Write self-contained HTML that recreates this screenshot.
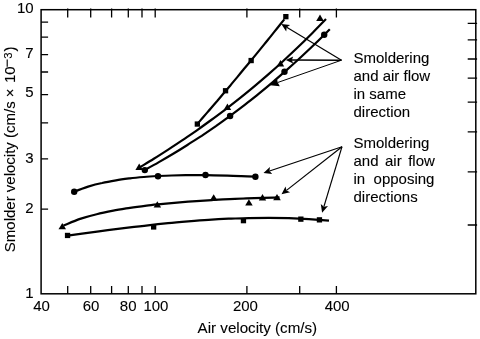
<!DOCTYPE html>
<html><head><meta charset="utf-8">
<style>
html,body{margin:0;padding:0;background:#fff;}
svg{display:block;}
text{font-family:"Liberation Sans",Arial,sans-serif;fill:#000;stroke:#000;stroke-width:0.1px;}
</style></head>
<body>
<svg width="480" height="339" viewBox="0 0 480 339">
<rect width="480" height="339" fill="#fff"/>
<g stroke="#000" fill="none">
<rect x="41.1" y="9.7" width="434.7" height="284.1" stroke-width="1.5"/>
<path stroke-width="1.3" d="M67.7 293.8V286.1M67.7 8.5V17.4M90.7 293.8V286.1M90.7 8.5V17.4M111.6 293.8V286.1M111.6 8.5V17.4M128.3 293.8V286.1M128.3 8.5V17.4M142.0 293.8V286.1M142.0 8.5V17.4M155.2 293.8V286.1M155.2 8.5V17.4M246.9 293.8V286.1M246.9 8.5V17.4M299.7 293.8V286.1M299.7 8.5V17.4M336.4 293.8V286.1M336.4 8.5V17.4M41.1 22.2H48.1M41.1 37.2H48.1M41.1 54.7H48.1M41.1 72.0H48.1M41.1 94.6H48.1M41.1 122.8H48.1M41.1 158.8H48.1M41.1 209.2H48.1M477.1 23.3H467.7M477.1 39.8H467.7M477.1 59.0H467.7M477.1 78.2H467.7M477.1 102.2H467.7M477.1 131.8H467.7M477.1 171.8H467.7M477.1 225.0H467.7"/>
</g>
<g font-size="15.0">
<text x="33.6" y="13.3" text-anchor="end">10</text>
<text x="33.6" y="57.8" text-anchor="end">7</text>
<text x="33.6" y="97.0" text-anchor="end">5</text>
<text x="33.6" y="162.5" text-anchor="end">3</text>
<text x="33.6" y="213.0" text-anchor="end">2</text>
<text x="33.6" y="297.6" text-anchor="end">1</text>
<text x="41.5" y="311.3" text-anchor="middle">40</text>
<text x="91" y="311.3" text-anchor="middle">60</text>
<text x="128.2" y="311.3" text-anchor="middle">80</text>
<text x="155.9" y="311.3" text-anchor="middle">100</text>
<text x="245.4" y="311.3" text-anchor="middle">200</text>
<text x="337.2" y="311.3" text-anchor="middle">400</text>
<text x="197.6" y="332.5" textLength="119.5" lengthAdjust="spacingAndGlyphs">Air velocity (cm/s)</text>
<text transform="translate(15.4,252.2) rotate(-90)">Smolder velocity (cm/s × <tspan dx="1.2">10</tspan><tspan dy="-3.2" dx="-1.1" font-size="15">−</tspan><tspan font-size="11.3" dy="-0.4">3</tspan><tspan dy="3.6" dx="0.9">)</tspan></text>
</g>
<g font-size="15.0">
<text x="353.5" y="63.3">Smoldering</text>
<text x="353.5" y="80.8">and air flow</text>
<text x="353.5" y="98.5">in same</text>
<text x="353.5" y="116.7">direction</text>
<text x="353.5" y="148.3">Smoldering</text>
<text x="353.5" y="165.8" word-spacing="2.3">and air flow</text>
<text x="353.5" y="183.8" word-spacing="4.2">in opposing</text>
<text x="353.5" y="201.7">directions</text>
</g>
<g stroke="#000" stroke-width="2.2" fill="none">
<path d="M197.3 124.0C198.4 122.7 201.8 118.9 204.0 116.3C206.2 113.7 208.5 111.1 210.7 108.5C212.9 105.9 215.1 103.3 217.4 100.7C219.6 98.1 221.8 95.5 224.1 92.8C226.3 90.2 228.5 87.5 230.8 84.9C233.0 82.2 235.2 79.6 237.5 76.9C239.7 74.2 241.9 71.5 244.1 68.8C246.4 66.1 248.6 63.4 250.8 60.7C253.1 58.0 255.3 55.3 257.5 52.6C259.8 49.8 262.0 47.1 264.2 44.4C266.5 41.6 268.7 38.8 270.9 36.1C273.1 33.3 275.4 30.5 277.6 27.7C279.8 25.0 283.2 20.8 284.3 19.4"/>
<path d="M139.5 167.6C141.9 166.1 149.1 161.8 153.8 158.8C158.6 155.8 163.4 152.7 168.2 149.6C173.0 146.5 177.8 143.4 182.5 140.2C187.3 136.9 192.1 133.7 196.9 130.3C201.7 126.9 206.4 123.5 211.2 120.0C216.0 116.5 220.8 112.9 225.6 109.3C230.4 105.6 235.1 101.9 239.9 98.1C244.7 94.2 249.5 90.3 254.3 86.3C259.1 82.3 263.8 78.3 268.6 74.1C273.4 69.9 278.2 65.6 283.0 61.2C287.7 56.8 292.5 52.4 297.3 47.8C302.1 43.2 306.9 38.5 311.7 33.7C316.4 28.9 323.6 21.4 326.0 19.0"/>
<path d="M144.7 170.0C147.1 168.7 154.2 164.9 158.9 162.1C163.7 159.4 168.4 156.7 173.2 153.8C177.9 151.0 182.7 148.0 187.4 145.0C192.2 142.0 196.9 138.9 201.7 135.8C206.4 132.6 211.1 129.4 215.9 126.1C220.6 122.7 225.4 119.3 230.1 115.8C234.9 112.3 239.6 108.8 244.4 105.1C249.1 101.4 253.9 97.7 258.6 93.8C263.4 90.0 268.1 86.1 272.8 82.1C277.6 78.0 282.3 73.9 287.1 69.7C291.8 65.5 296.6 61.2 301.3 56.8C306.1 52.4 310.8 47.9 315.6 43.3C320.3 38.7 327.4 31.6 329.8 29.2"/>
<path d="M74.2 191.7C76.5 190.8 83.5 188.1 88.1 186.6C92.8 185.2 97.4 184.0 102.1 183.0C106.7 181.9 111.3 181.1 116.0 180.3C120.6 179.5 125.3 178.9 129.9 178.3C134.6 177.8 139.2 177.4 143.9 177.0C148.5 176.6 153.1 176.3 157.8 176.0C162.4 175.8 167.1 175.6 171.7 175.5C176.4 175.3 181.0 175.2 185.6 175.2C190.3 175.1 194.9 175.1 199.6 175.1C204.2 175.2 208.9 175.2 213.5 175.3C218.2 175.4 222.8 175.5 227.4 175.6C232.1 175.7 236.7 175.9 241.4 176.1C246.0 176.2 253.0 176.5 255.3 176.6"/>
<path d="M63.5 225.6C66.3 224.5 74.6 220.8 80.1 218.9C85.7 217.0 91.2 215.5 96.7 214.2C102.3 212.8 107.8 211.7 113.3 210.6C118.9 209.5 124.4 208.7 130.0 207.8C135.5 207.0 141.0 206.3 146.6 205.6C152.1 204.9 157.7 204.4 163.2 203.8C168.7 203.3 174.3 202.8 179.8 202.3C185.3 201.9 190.9 201.5 196.4 201.1C202.0 200.7 207.5 200.4 213.0 200.0C218.6 199.7 224.1 199.4 229.7 199.2C235.2 198.9 240.7 198.6 246.3 198.4C251.8 198.2 257.3 198.0 262.9 197.8C268.4 197.6 276.7 197.3 279.5 197.3"/>
<path d="M67.6 235.6C71.0 235.1 81.0 233.7 87.7 232.8C94.4 231.9 101.1 231.0 107.8 230.1C114.5 229.3 121.2 228.4 127.9 227.6C134.6 226.8 141.3 226.0 148.0 225.3C154.7 224.5 161.4 223.8 168.1 223.2C174.8 222.5 181.5 221.9 188.2 221.3C194.9 220.8 201.7 220.3 208.4 219.9C215.1 219.4 221.8 219.0 228.5 218.7C235.2 218.5 241.9 218.2 248.6 218.1C255.3 217.9 262.0 217.9 268.7 217.9C275.4 217.9 282.1 218.0 288.8 218.2C295.5 218.4 302.2 218.7 308.9 219.1C315.6 219.5 325.6 220.3 329.0 220.6"/>
</g>
<g fill="#000">
<rect x="283.2" y="14.0" width="5.3" height="5.3"/>
<rect x="248.5" y="57.9" width="5.3" height="5.3"/>
<rect x="222.9" y="88.1" width="5.3" height="5.3"/>
<rect x="194.7" y="121.4" width="5.3" height="5.3"/>
<rect x="64.9" y="232.8" width="5.3" height="5.3"/>
<rect x="151.0" y="224.3" width="5.3" height="5.3"/>
<rect x="240.8" y="218.0" width="5.3" height="5.3"/>
<rect x="298.2" y="216.5" width="5.3" height="5.3"/>
<rect x="316.8" y="217.2" width="5.3" height="5.3"/>
<circle cx="324.2" cy="34.8" r="3.2"/>
<circle cx="284.5" cy="71.7" r="3.2"/>
<circle cx="230.1" cy="116" r="3.2"/>
<circle cx="144.8" cy="170.1" r="3.2"/>
<circle cx="74.2" cy="191.7" r="3.2"/>
<circle cx="158" cy="176.2" r="3.2"/>
<circle cx="205.5" cy="175" r="3.2"/>
<circle cx="255.4" cy="176.8" r="3.2"/>
<path d="M320 14.5L323.8 20.9H316.2Z"/>
<path d="M280.5 60.0L284.2 66.4H276.8Z"/>
<path d="M227.4 103.5L231.2 109.9H223.7Z"/>
<path d="M139.2 163.5L142.9 169.9H135.4Z"/>
<path d="M62.3 222.9L66.0 229.3H58.5Z"/>
<path d="M157.3 201.2L161.1 207.6H153.6Z"/>
<path d="M213.7 194.2L217.4 200.6H209.9Z"/>
<path d="M248.9 199.2L252.7 205.6H245.2Z"/>
<path d="M262.5 194.0L266.2 200.4H258.8Z"/>
<path d="M277 193.9L280.8 200.3H273.2Z"/>
</g>
<g stroke="#000" stroke-width="1.15" fill="none">
<path stroke-width="1.2" d="M341.5 60.2L286.7 27.3"/>
<path stroke-width="1.5" d="M341.5 60.2L291.8 60.1"/>
<path stroke-width="1.0" d="M341.5 60.2L277.7 82.5"/>
<path stroke-width="1.2" d="M342 146.7L269.5 171.0"/>
<path stroke-width="1.2" d="M342 146.7L286.5 190.4"/>
<path stroke-width="1.2" d="M342 146.7L323.9 206.7"/>
</g>
<path fill="#000" d="M281.3 24.1L286.2 31.4L286.7 27.3L290.1 25.0ZM285.8 60.1L293.2 63.6L291.8 60.1L293.2 56.6ZM270 85.2L279.8 86.2L277.7 82.5L277.0 78.4ZM263.5 173L272.2 174.0L269.5 171.0L269.9 166.9ZM281.5 194.3L290.1 192.3L286.5 190.4L285.5 186.4ZM322.1 212.7L328.0 206.1L323.9 206.7L320.8 204.0Z"/>
</svg>
</body></html>
